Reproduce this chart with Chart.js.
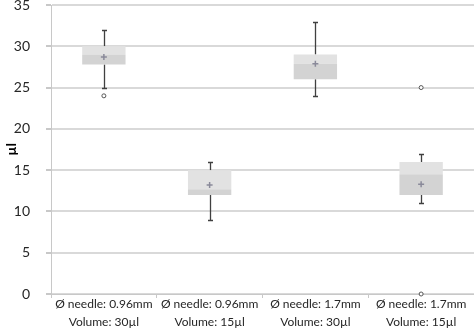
<!DOCTYPE html>
<html>
<head>
<meta charset="utf-8">
<script src="https://cdn.jsdelivr.net/npm/chart.js@4"></script>
<style>
  html, body { margin: 0; padding: 0; background: #ffffff; }
  #wrap { width: 474px; height: 332px; }
</style>
</head>
<body>
<div id="wrap"><canvas id="c" width="474" height="332"></canvas></div>
<script>
// Injection volume distributions per needle / target volume
const categories = [
  ["Ø needle: 0.96mm", "Volume: 30µl"],
  ["Ø needle: 0.96mm", "Volume: 15µl"],
  ["Ø needle: 1.7mm", "Volume: 30µl"],
  ["Ø needle: 1.7mm", "Volume: 15µl"]
];
const whiskerMin = [25, 9, 24, 11];
const quartile1  = [27.8, 12, 26, 12];
const medians    = [29, 12.7, 27.9, 14.5];
const quartile3  = [30, 15, 29, 16];
const whiskerMax = [32, 16, 33, 17];
const means      = [28.7, 13.2, 27.9, 13.3];
// [category index, value]
const outliers   = [[0, 24], [3, 25], [3, 0]];
const yTicks     = [0, 5, 10, 15, 20, 25, 30, 35];

const lowerBox = categories.map((_, i) => [quartile1[i], medians[i]]);
const upperBox = categories.map((_, i) => [medians[i], quartile3[i]]);

// Outliers grouped into per-category rows (one dataset per row, null elsewhere)
const outlierRows = [];
categories.forEach((_, i) => {
  outliers.filter(o => o[0] === i).forEach((o, k) => {
    if (!outlierRows[k]) outlierRows[k] = categories.map(() => null);
    outlierRows[k][i] = o[1];
  });
});

// Whiskers with end caps, drawn from the stats arrays through the chart scales
const whiskerPlugin = {
  id: 'whiskers',
  beforeDatasetsDraw(chart) {
    const { ctx, scales: { x, y } } = chart;
    ctx.save();
    ctx.strokeStyle = '#404040';
    ctx.lineWidth = 1.3;
    categories.forEach((_, i) => {
      const px = Math.round(x.getPixelForValue(i)) + 0.5;
      const segs = [[quartile3[i], whiskerMax[i]], [quartile1[i], whiskerMin[i]]];
      segs.forEach(([from, to]) => {
        const y0 = y.getPixelForValue(from);
        const y1 = Math.round(y.getPixelForValue(to)) + 0.5;
        ctx.beginPath();
        ctx.moveTo(px, y0);
        ctx.lineTo(px, y1);
        ctx.moveTo(px - 2.5, y1);
        ctx.lineTo(px + 2.5, y1);
        ctx.stroke();
      });
    });
    ctx.restore();
  }
};

const outlierDatasets = outlierRows.map((row, k) => ({
  type: 'line',
  label: 'outliers ' + (k + 1),
  data: row,
  showLine: false,
  spanGaps: false,
  pointStyle: 'circle',
  pointRadius: 2,
  pointBorderWidth: 1,
  pointBackgroundColor: '#ffffff',
  pointBorderColor: '#555555',
  clip: false,
  order: 0
}));

new Chart(document.getElementById('c'), {
  type: 'bar',
  data: {
    labels: categories,
    datasets: [
      {
        label: 'Q1–median',
        data: lowerBox,
        backgroundColor: '#d3d3d3',
        borderWidth: 0,
        grouped: false,
        barPercentage: 0.41,
        categoryPercentage: 1,
        order: 3
      },
      {
        label: 'median–Q3',
        data: upperBox,
        backgroundColor: '#e2e2e2',
        borderWidth: 0,
        grouped: false,
        barPercentage: 0.41,
        categoryPercentage: 1,
        order: 3
      },
      {
        type: 'line',
        label: 'mean',
        data: means,
        showLine: false,
        pointStyle: 'cross',
        pointRadius: 3,
        pointBorderWidth: 1.5,
        pointBorderColor: '#8a8a9a',
        order: 1
      },
      ...outlierDatasets
    ]
  },
  options: {
    responsive: false,
    animation: false,
    layout: { autoPadding: false, padding: { top: 5, right: -4, left: 0, bottom: 0 } },
    plugins: {
      legend: { display: false },
      tooltip: { enabled: false }
    },
    scales: {
      x: {
        type: 'category',
        offset: true,
        afterFit(axis) { axis.height = 38; axis.paddingLeft = 0; axis.paddingRight = 0; },
        grid: {
          display: true,
          offset: true,
          drawOnChartArea: false,
          drawTicks: true,
          tickLength: 4,
          color: '#c8c8c8'
        },
        border: { color: '#c8c8c8', width: 1 },
        ticks: {
          color: '#262626',
          font: { family: 'Lato', size: 12, lineHeight: 1.5 },
          padding: -3,
          maxRotation: 0,
          autoSkip: false
        }
      },
      y: {
        min: 0,
        max: 35,
        afterBuildTicks(axis) { axis.ticks = yTicks.map(v => ({ value: v })); },
        afterFit(axis) { axis.paddingTop = 0; axis.paddingBottom = 0; axis.width = 51; },
        grid: {
          color: '#d9d9d9',
          lineWidth: 2,
          tickLength: 5,
          tickColor: '#c8c8c8',
          drawTicks: true
        },
        border: { color: '#c8c8c8', width: 1 },
        title: {
          display: true,
          text: 'µl',
          color: '#000000',
          font: { family: 'Lato', size: 14, weight: 'bold' },
          padding: { top: 3, bottom: 0 }
        },
        ticks: {
          color: '#262626',
          font: { family: 'Lato', size: 14 },
          padding: 16
        }
      }
    }
  },
  plugins: [whiskerPlugin]
});
</script>
</body>
</html>
